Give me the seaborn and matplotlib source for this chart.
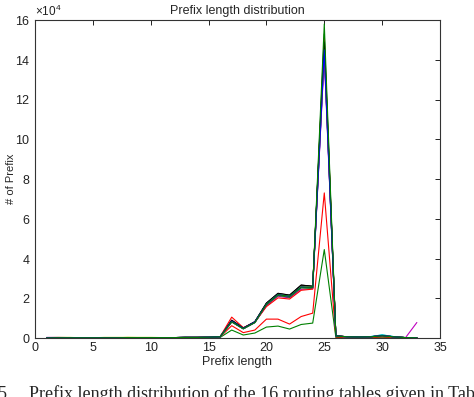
import numpy as np
import pandas as pd
import matplotlib
matplotlib.use("Agg")
import matplotlib.pyplot as plt
from matplotlib.ticker import ScalarFormatter
import seaborn as sns

# prefix lengths 1..33, counts in units of 10^4
prefix_len = list(range(1, 34))

s01 = [0, .01, .01, .01, .01, .01, .01, .02, .02, .02, .02, .02, .03, .03, .04,
       .06, .85, .48, .80, 1.72, 2.22, 2.12, 2.62, 2.58, 14.6, .10, .06, .05, .06, .12, .06, .02, .01]
s02 = [0, .01, .01, .01, .01, .01, .01, .01, .01, .01, .01, .01, .02, .02, .02,
       .03, .40, .15, .25, .55, .60, .45, .68, .75, 4.45, .03, .02, .02, .02, .04, .02, .01, .01]
s03 = [0, .01, .01, .01, .01, .01, .01, .02, .02, .02, .02, .02, .02, .03, .03,
       .05, .62, .27, .40, .95, .95, .70, 1.08, 1.25, 7.3, .05, .03, .03, .03, .06, .03, .02, .01]
s04 = [0, .01, .01, .01, .01, .01, .01, .02, .02, .02, .02, .02, .03, .03, .04,
       .06, .82, .47, .78, 1.68, 2.18, 2.08, 2.55, 2.54, 14.9, .10, .06, .05, .07, .16, .07, .02, .01]
s05 = [.03, .03, .02, .01, .01, .01, .01, .02, .02, .02, .02, .02, .03, .03, .04,
       .06, .80, .46, .77, 1.62, 2.10, 2.02, 2.45, 2.48, 14.3, .09, .06, .05, .06, .11, .05, 0, .78]
s06 = [.02, .03, .03, .01, .01, .03, .03, .03, .02, .02, .02, .02, .03, .03, .04,
       .06, .84, .49, .79, 1.70, 2.20, 2.10, 2.60, 2.56, 14.7, .10, .06, .05, .06, .10, .06, .02, .01]
s07 = [0, .01, .01, .01, .01, .01, .01, .02, .02, .02, .02, .02, .03, .03, .04,
       .06, .90, .50, .82, 1.75, 2.24, 2.15, 2.66, 2.60, 14.8, .11, .06, .05, .06, .12, .06, .02, .01]
s08 = [0, .01, .01, .01, .01, .01, .01, .02, .02, .02, .02, .02, .03, .03, .04,
       .06, .83, .47, .79, 1.71, 2.20, 2.10, 2.58, 2.55, 14.5, .10, .06, .05, .06, .13, .06, .02, .01]
s09 = [0, .01, .01, .01, .01, .01, .01, .02, .02, .02, .02, .02, .03, .03, .04,
       .06, .81, .46, .78, 1.66, 2.14, 2.05, 2.52, 2.50, 15.3, .10, .06, .05, .06, .11, .06, .02, .01]
s10 = [0, .01, .01, .01, .01, .01, .01, .02, .02, .02, .02, .02, .03, .03, .04,
       .07, 1.05, .52, .80, 1.58, 2.02, 1.96, 2.40, 2.46, 15.1, .10, .06, .05, .06, .11, .06, .02, .01]
s11 = [0, .01, .01, .01, .01, .01, .01, .02, .02, .02, .02, .02, .03, .03, .04,
       .06, .84, .48, .80, 1.71, 2.20, 2.11, 2.58, 2.55, 14.4, .10, .06, .05, .07, .15, .07, .02, .01]
s12 = [0, .01, .01, .01, .01, .01, .01, .02, .02, .02, .02, .02, .03, .03, .04,
       .06, .86, .49, .81, 1.69, 2.19, 2.09, 2.57, 2.53, 14.2, .10, .06, .05, .06, .11, .06, .02, .01]
s13 = [0, .01, .01, .01, .01, .01, .01, .03, .03, .03, .02, .02, .03, .03, .04,
       .06, .83, .48, .79, 1.73, 2.21, 2.13, 2.61, 2.57, 14.6, .10, .06, .05, .06, .11, .06, .02, .01]
s14 = [0, .01, .01, .01, .01, .01, .01, .02, .02, .02, .02, .02, .03, .03, .04,
       .06, .88, .50, .82, 1.76, 2.25, 2.16, 2.66, 2.61, 14.9, .11, .06, .05, .06, .12, .06, .02, .01]
s15 = [0, .01, .01, .01, .01, .01, .01, .02, .02, .02, .02, .02, .03, .03, .04,
       .06, .84, .48, .80, 1.70, 2.19, 2.10, 2.57, 2.54, 14.5, .10, .06, .05, .06, .12, .06, .02, .01]
s16 = [0, .01, .01, .01, .01, .01, .01, .02, .02, .02, .02, .02, .03, .03, .04,
       .06, .82, .47, .78, 1.70, 2.18, 2.10, 2.56, 2.55, 15.8, .10, .06, .05, .06, .11, .06, .02, .01]

tables = [s01, s02, s03, s04, s05, s06, s07, s08,
          s09, s10, s11, s12, s13, s14, s15, s16]
table_names = [f"table{i + 1}" for i in range(len(tables))]

# MATLAB default colour order (b g r c m y k)
matlab_colors = ["#0000ff", "#008000", "#ff0000", "#00bfbf", "#bf00bf", "#bfbf00", "#000000"]
palette = [matlab_colors[i % 7] for i in range(len(tables))]

rows = []
for name, vals in zip(table_names, tables):
    for x, v in zip(prefix_len, vals):
        rows.append({"table": name, "prefix": x, "count": v * 1e4})
df = pd.DataFrame(rows)

sns.set_style("white")
plt.rcParams["font.family"] = ["Liberation Sans", "DejaVu Sans"]
plt.rcParams["mathtext.fontset"] = "custom"
plt.rcParams["mathtext.rm"] = "Liberation Sans"

fig = plt.figure(figsize=(4.74, 3.97), dpi=100)
ax = fig.add_axes([35 / 474, 59 / 397, 405 / 474, 318 / 397])

sns.lineplot(data=df, x="prefix", y="count", hue="table", hue_order=table_names,
             palette=palette, linewidth=0.8, legend=False, ax=ax, estimator=None)

ax.set_xlim(0, 35)
ax.set_ylim(0, 16e4)
ax.set_xticks(np.arange(0, 36, 5))
ax.set_yticks(np.arange(0, 16.1e4, 2e4))
fmt = ScalarFormatter(useMathText=True)
fmt.set_powerlimits((4, 4))
ax.yaxis.set_major_formatter(fmt)
ax.yaxis.get_offset_text().set_fontsize(8.5)

ax.tick_params(direction="in", length=3.5, width=0.7, top=True, right=True,
               labelsize=9, colors="#222222", pad=3)
for sp in ax.spines.values():
    sp.set_visible(True)
    sp.set_color("#333333")
    sp.set_linewidth(0.8)

ax.set_title("Prefix length distribution", fontsize=9, pad=4)
ax.set_xlabel("Prefix length", fontsize=9, labelpad=1)
ax.set_ylabel("# of Prefix", fontsize=8, labelpad=4)
ax.yaxis.set_label_coords(-19 / 405, 0.5)

# figure caption, cropped at the page edge as in the source scan
fig.text(29 / 474, -2 / 397,
         "Prefix length distribution of the 16 routing tables given in Table 1",
         fontsize=13, family=["Liberation Serif", "DejaVu Serif"], va="baseline")
fig.text(7 / 474, -2 / 397, "5", fontsize=13,
         family=["Liberation Serif", "DejaVu Serif"], va="baseline", ha="right")

fig.savefig("out.png", dpi=100)
